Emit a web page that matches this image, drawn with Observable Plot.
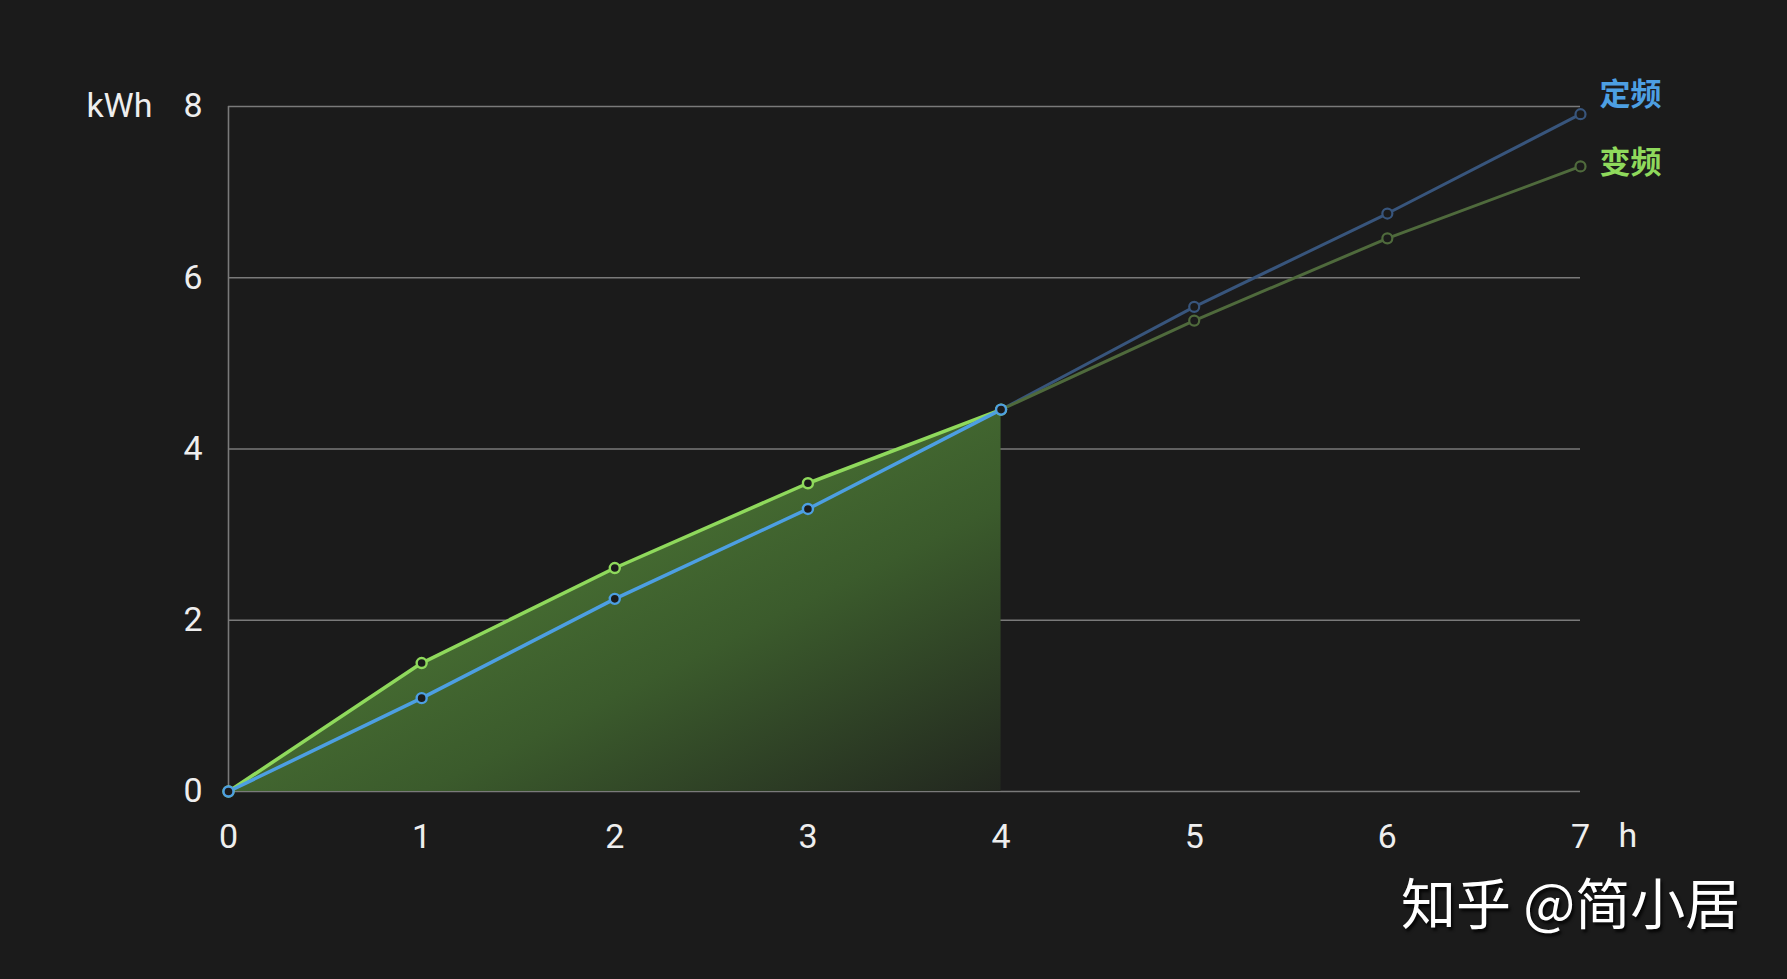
<!DOCTYPE html>
<html>
<head>
<meta charset="utf-8">
<script src="https://cdn.jsdelivr.net/npm/d3@7"></script>
<script src="https://cdn.jsdelivr.net/npm/@observablehq/plot@0.6"></script>
<style>
  html, body { margin: 0; padding: 0; background: #1b1b1b; overflow: hidden; }
  #wrap { position: relative; width: 1787px; height: 979px; }
  #mark { position: absolute; left: 1401px; top: 860px; font-family: "Noto Sans CJK SC", sans-serif; font-size: 55px; color: #fff; text-shadow: 2px 3px 3px rgba(0,0,0,0.8); white-space: pre; }
</style>
</head>
<body>
<div id="wrap"><div id="mark">知乎 @简小居</div></div>
<script>
const hours = [0, 1, 2, 3, 4, 5, 6, 7];
const fixedFreq = [0, 1.09, 2.25, 3.30, 4.46, 5.66, 6.75, 7.91];   // 定频
const inverter  = [0, 1.50, 2.61, 3.60, 4.46, 5.50, 6.46, 7.30];   // 变频
const yTicks = [0, 2, 4, 6, 8];
const seriesNames = ["定频", "变频"];
const splitHour = 4;

const blue = "#4d9fe2", blueDim = "#38557c";
const green = "#8fd95c", greenDim = "#4f6a3c";
const bg = "#1b1b1b";
const ink = "#eeeeee";

const rows = hours.map((h, i) => ({h, fixed: fixedFreq[i], inv: inverter[i]}));
const early = rows.filter(d => d.h <= splitHour);
const late = rows.filter(d => d.h >= splitHour);
const lateDots = late.filter(d => d.h > splitHour);
const last = rows[rows.length - 1];

const plot = Plot.plot({
  width: 1787,
  height: 979,
  marginLeft: 228,
  marginRight: 207,
  marginTop: 106,
  marginBottom: 188,
  style: {background: bg, fontFamily: "Roboto, 'Noto Sans', sans-serif", fontSize: "34px", color: ink},
  x: {domain: [0, 7]},
  y: {domain: [0, 8]},
  marks: [
    Plot.ruleY(yTicks, {stroke: "#7a7a7a", strokeWidth: 1.6}),
    Plot.ruleX([0], {y1: 0, y2: 8, stroke: "#7a7a7a", strokeWidth: 1.6}),
    Plot.areaY(early, {x: "h", y: "inv", fill: "url(#areaGrad)"}),
    Plot.lineY(late, {x: "h", y: "fixed", stroke: blueDim, strokeWidth: 3}),
    Plot.lineY(late, {x: "h", y: "inv", stroke: greenDim, strokeWidth: 3}),
    Plot.dot(lateDots, {x: "h", y: "inv", r: 5, stroke: greenDim, strokeWidth: 2.2, fill: bg}),
    Plot.dot(lateDots, {x: "h", y: "fixed", r: 5, stroke: blueDim, strokeWidth: 2.2, fill: bg}),
    Plot.lineY(early, {x: "h", y: "inv", stroke: green, strokeWidth: 3.5}),
    Plot.lineY(early, {x: "h", y: "fixed", stroke: blue, strokeWidth: 3.5}),
    Plot.dot(early, {x: "h", y: "inv", r: 5, stroke: green, strokeWidth: 2.4, fill: bg}),
    Plot.dot(early, {x: "h", y: "fixed", r: 5, stroke: blue, strokeWidth: 2.4, fill: bg}),
    Plot.axisY({ticks: yTicks, tickSize: 0, tickPadding: 26, fontSize: 34, fill: ink, label: null}),
    Plot.axisX({ticks: hours, tickSize: 0, tickPadding: 32, fontSize: 34, fill: ink, label: null, tickFormat: d => d}),
    Plot.text(["kWh"], {x: 0, y: 8, text: d => d, textAnchor: "end", dx: -76, fontSize: 34, fill: ink}),
    Plot.text(["h"], {x: 7, y: 0, text: d => d, textAnchor: "start", dx: 38, dy: 45, fontSize: 34, fill: ink}),
    Plot.text([seriesNames[0]], {x: last.h, y: last.fixed, text: d => d, textAnchor: "start", dx: 19, dy: -19, fontSize: 31, fontWeight: "bold", fill: blue, fontFamily: "Noto Sans CJK SC"}),
    Plot.text([seriesNames[1]], {x: last.h, y: last.inv, text: d => d, textAnchor: "start", dx: 19, dy: -3, fontSize: 31, fontWeight: "bold", fill: green, fontFamily: "Noto Sans CJK SC"})
  ]
});

const svg = d3.select(plot);
const grad = svg.insert("defs", ":first-child").append("linearGradient")
  .attr("id", "areaGrad").attr("x1", 0.25).attr("y1", 0.25).attr("x2", 1).attr("y2", 1);
grad.append("stop").attr("offset", 0).attr("stop-color", "#4e7a36");
grad.append("stop").attr("offset", 0.5).attr("stop-color", "#3b5b2c");
grad.append("stop").attr("offset", 1).attr("stop-color", "#22271f");

document.getElementById("wrap").prepend(plot);
plot.style.position = "absolute";
plot.style.left = "0";
plot.style.top = "0";
</script>
</body>
</html>
